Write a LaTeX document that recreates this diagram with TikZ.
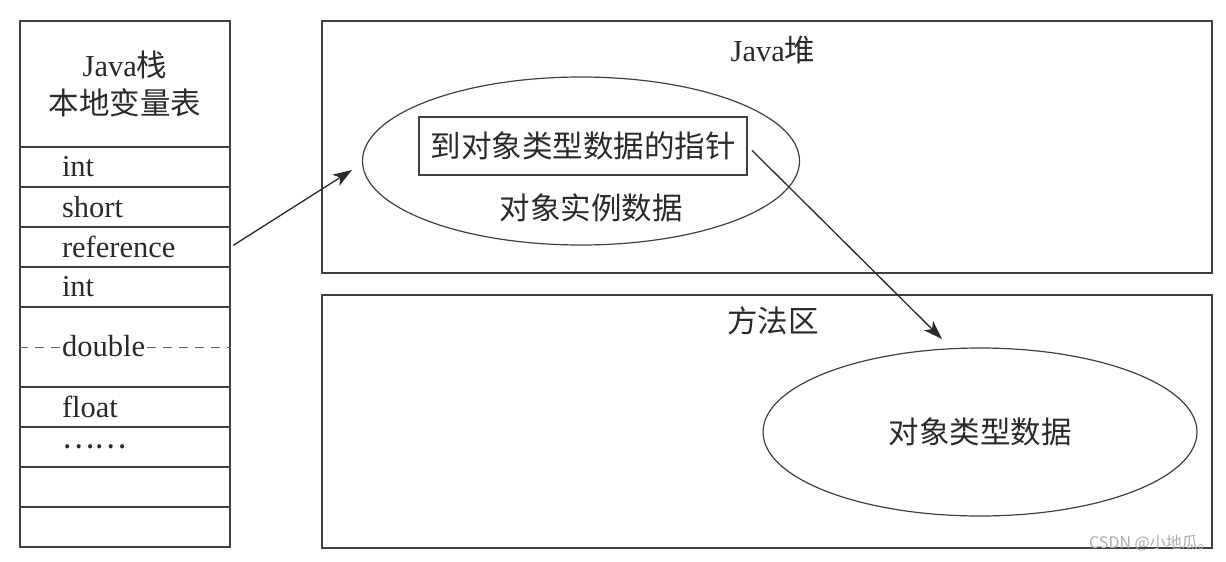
\documentclass[tikz,border=0pt]{standalone}
\usepackage{fontspec}
\setmainfont{Liberation Serif}
\newfontfamily\cjk{Noto Sans CJK SC}
\usetikzlibrary{shapes.geometric,arrows.meta}
\definecolor{ink}{HTML}{2A2A2A}
\definecolor{rule}{HTML}{404040}

\begin{document}
\begin{tikzpicture}[x=1pt,y=-1pt]
\tikzset{box/.style = {draw=rule, line width=1.3pt, inner sep=0pt}}
\tikzset{lbl/.style = {text=ink, inner sep=1pt, font=\fontsize{30.5}{38}\selectfont}}
\tikzset{slot/.style = {box, lbl, minimum height=40pt, text width=126pt, inner xsep=42pt, inner ysep=0pt}}
\tikzset{ell/.style = {lbl, shape=ellipse, draw=rule, line width=1.2pt, inner sep=0pt}}
\tikzset{arrow/.style = {-{Stealth[length=19pt, width=13pt, inset=5pt]}, draw=ink, line width=1.3pt}}
\useasboundingbox (0,0) rectangle (1226,562);
\fill[white] (0,0) rectangle (1226,562);
% Java stack
\node[box, lbl, minimum width=210pt, minimum height=126pt, align=center] (head) at (125,84) {Java{\cjk 栈}\\{\cjk 本地变量表}};
\node[slot] (r1) at (125,167) {int};
\node[slot] (r2) at (125,207) {short};
\node[slot] (ref) at (125,247) {reference};
\node[slot] (r4) at (125,287) {int};
\node[slot, minimum height=80pt] (dbl) at (125,347) {};
\draw[draw=rule!80, line width=1pt, dash pattern=on 9pt off 7pt] (dbl.west) -- (dbl.east);
\node[lbl, fill=white, anchor=west] (dbltxt) at (61,346) {double};
\node[slot] (r6) at (125,407) {float};
\node[slot] (r7) at (125,447) {{\cjk ……}};
\node[slot] (r8) at (125,487) {};
\node[slot] (r9) at (125,527) {};
% Java heap
\node[box, minimum width=890pt, minimum height=252pt] (heap) at (767,147) {};
\node[lbl] (heaplbl) at (773,50) {Java{\cjk 堆}};
\node[ell, minimum width=437pt, minimum height=168pt] (objell) at (581,161) {};
\node[box, lbl, minimum width=328pt, minimum height=58pt] (ptr) at (583,146) {{\cjk 到对象类型数据的指针}};
\node[lbl] (objdata) at (591,208) {{\cjk 对象实例数据}};
% method area
\node[box, minimum width=890pt, minimum height=253pt] (method) at (767,421.5) {};
\node[lbl] (methodlbl) at (773,321) {{\cjk 方法区}};
\node[ell, minimum width=434pt, minimum height=168pt] (typeell) at (980,432) {{\cjk 对象类型数据}};
% references
\coordinate (tip1) at (352,170);
\coordinate (tip2) at (942,339);
\draw[arrow, shorten <=3pt] (ref.east) -- (tip1);
\draw[arrow, shorten <=6pt] (ptr.east) -- (tip2);
\node[anchor=east, text=gray!65, inner sep=0pt, font=\cjk\fontsize{16}{18}\selectfont] (mark) at (1214,543) {CSDN @小地瓜。};
\end{tikzpicture}
\end{document}
